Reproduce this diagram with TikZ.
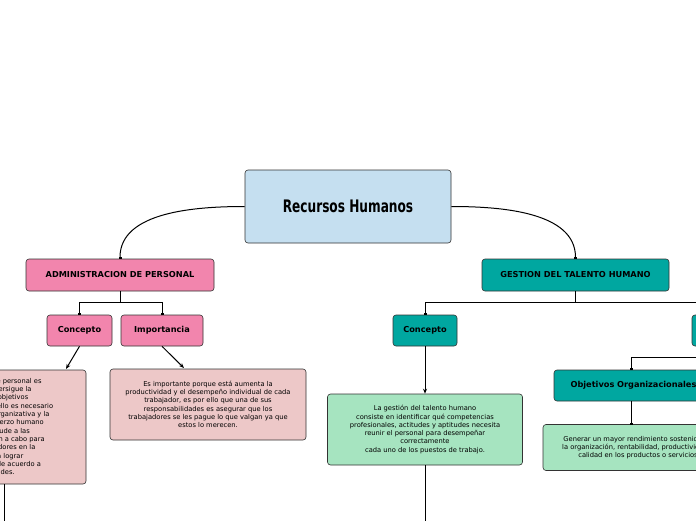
\documentclass[tikz,border=0pt]{standalone}
\usepackage{fontspec}
\setmainfont{DejaVu Sans}
\newfontfamily\titlefont{DejaVu Sans Condensed}
\usetikzlibrary{arrows.meta}
\definecolor{rootc}{HTML}{C5DFF0}
\definecolor{pinkc}{HTML}{F285AD}
\definecolor{tealc}{HTML}{00A7A0}
\definecolor{lpink}{HTML}{EDC8C8}
\definecolor{lgreen}{HTML}{A6E4C0}
\tikzset{
 box/.style={draw=black!80,rounded corners=3pt,line width=0.6pt,align=center,inner sep=0pt},
 small/.style={font=\fontsize{6.7}{8.3}\selectfont},
 lab/.style={font=\bfseries\fontsize{8.2}{9}\selectfont},
 con/.style={line width=1pt,-{Square[length=2pt,width=3pt]}},
 arr/.style={line width=1pt,-{Stealth[length=5pt,width=4pt]}},
}
\begin{document}
\begin{tikzpicture}[x=1pt,y=-1pt]
\useasboundingbox (0,0) rectangle (696,520);
\clip (0,0) rectangle (696,520);
\fill[white] (0,0) rectangle (696,520);
\node[box,fill=rootc,minimum width=206,minimum height=73,font=\titlefont\bfseries\fontsize{15}{18}\selectfont] (root) at (348,206.5) {\scalebox{0.9}[1.15]{Recursos Humanos}};
\node[box,fill=pinkc,minimum width=188,minimum height=32,lab] (adm) at (120,275) {ADMINISTRACION DE PERSONAL};
\node[box,fill=tealc,minimum width=187,minimum height=32,lab] (ges) at (575.5,275) {GESTION DEL TALENTO HUMANO};
\node[box,fill=pinkc,minimum width=65,minimum height=31,lab] (c1) at (79.5,330.5) {Concepto};
\node[box,fill=pinkc,minimum width=82,minimum height=31,lab] (imp) at (162,330.5) {Importancia};
\node[box,fill=tealc,minimum width=64,minimum height=31,lab] (c2) at (425,330.5) {Concepto};
\node[box,fill=tealc,minimum width=60,minimum height=31] (t2) at (722,330.5) {};
\node[box,fill=tealc,minimum width=160,minimum height=31,lab,text width=150pt] (obj) at (634,385.5) {\hspace*{-1pt}Objetivos Organizacionales\hfill};
\node[box,fill=lpink,minimum width=220,minimum height=114,small] (t1) at (-24,427) {};
\node[small,align=center] at (-14,427) {La administración de personal es\\un proceso que persigue la\\consecución de objetivos\\organizacionales, para ello es necesario\\tener una estructura organizativa y la\\colaboración del esfuerzo humano\\De este modo, alude a las\\actividades que llevan a cabo para\\contar con trabajadores en la\\empresa y para lograr\\su desarrollo pleno de acuerdo a\\sus capacidades.};
\node[box,fill=lpink,minimum width=196,minimum height=71,small] (ti) at (208,404.5) {Es importante porque está aumenta la\\productividad y el desempeño individual de cada\\trabajador, es por ello que una de sus\\responsabilidades es asegurar que los\\trabajadores se les pague lo que valgan ya que\\estos lo merecen.};
\node[box,fill=lgreen,minimum width=195,minimum height=71,small] (tc) at (425,429.5) {La gestión del talento humano\\consiste en identificar qué competencias\\profesionales, actitudes y aptitudes necesita\\reunir el personal para desempeñar\\correctamente\\cada uno de los puestos de trabajo.};
\node[box,fill=lgreen,minimum width=190,minimum height=46,small] (to) at (638,447.5) {Generar un mayor rendimiento sostenido en\\la organización, rentabilidad, productividad y\\calidad en los productos o servicios};
\draw[con] (root.west) to[out=180,in=90,looseness=0.9] (adm.north);
\draw[con] (root.east) to[out=0,in=90,looseness=0.9] (ges.north);
\draw[con] (adm.south) -- ++(0,11) -| (c1.north);
\draw[con] (adm.south) -- ++(0,11) -| (imp.north);
\draw[con] (ges.south) -- ++(0,11) -| (c2.north);
\draw[con] (ges.south) -- ++(0,11) -| (t2.north);
\draw[con] (t2.south) -- ++(0,11) -| (obj.north -| 631,0);
\draw[arr] (c1.south) -- (66,369);
\draw[arr] (imp.south) -- (184,368);
\draw[arr] (c2.south) -- (tc.north);
\draw[con] (631,401) -- (631,424.5);
\draw[line width=1pt] (4,484) -- (4,530);
\draw[line width=1pt] (tc.south) -- (425,530);
\end{tikzpicture}
\end{document}
